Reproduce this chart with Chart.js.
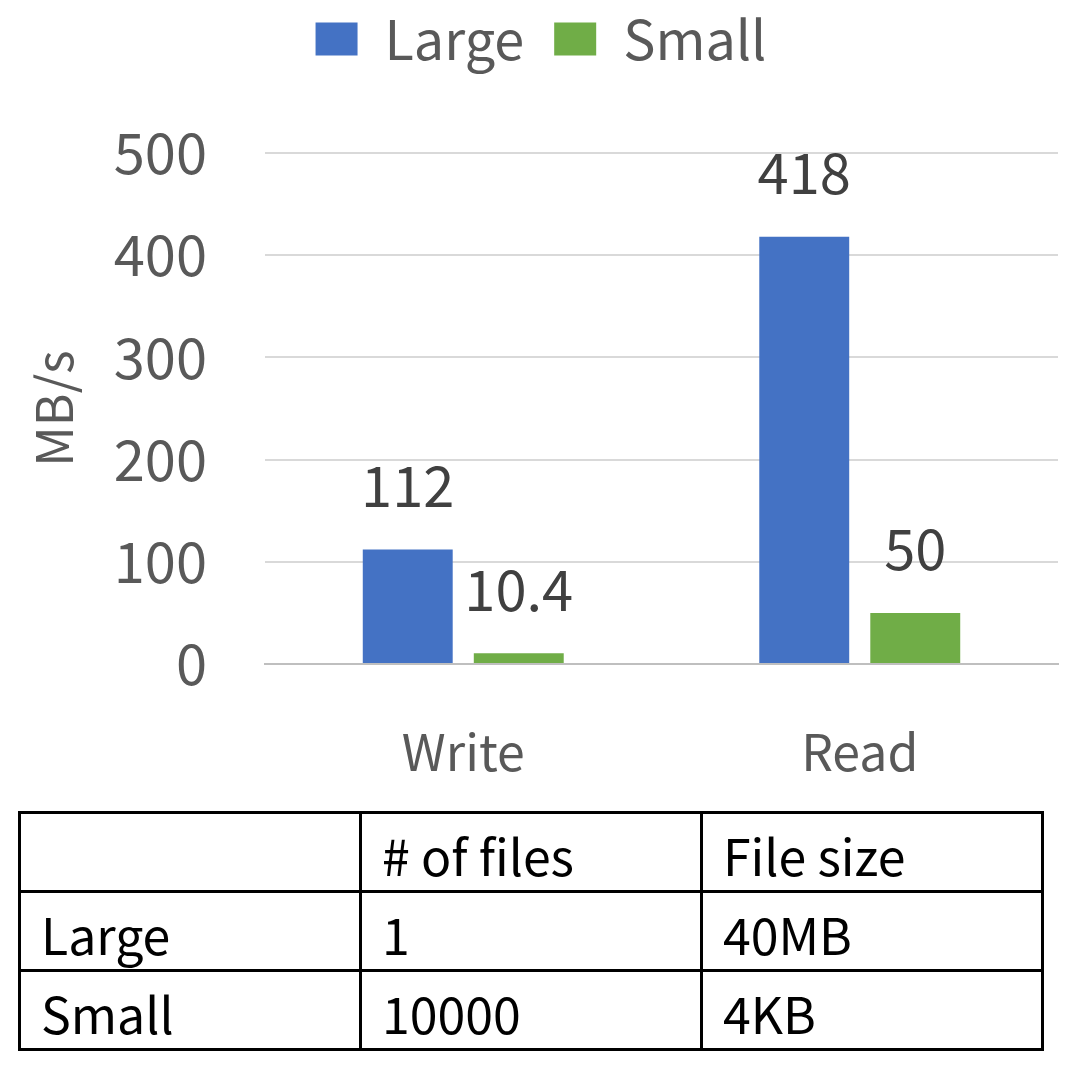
<!DOCTYPE html>
<html>
<head>
<meta charset="utf-8">
<script src="https://cdn.jsdelivr.net/npm/chart.js@4"></script>
<style>
  body { margin: 0; background: #fff; font-family: "Noto Sans CJK KR", "Noto Sans", sans-serif; }
  #wrap { position: relative; width: 1082px; height: 832px; }
  table {
    position: absolute; left: 18px; top: 811px;
    border-collapse: collapse; font-size: 50px; line-height: 1; color: #000;
  }
  td { border: 3px solid #000; height: 79px; padding: 4px 0 0 20px; vertical-align: middle; box-sizing: border-box; }
</style>
</head>
<body>
<div id="wrap"><canvas id="myChart" width="1082" height="832"></canvas></div>
<table id="info"></table>
<script>
const categories = ['Write', 'Read'];
const largeValues = [112, 418];
const smallValues = [10.4, 50];
const yTicks = [0, 100, 200, 300, 400, 500];
const tableHeader = ['', '# of files', 'File size'];
const tableRows = [
  ['Large', '1', '40MB'],
  ['Small', '10000', '4KB'],
];

// table under the chart
const table = document.getElementById('info');
[tableHeader, ...tableRows].forEach(row => {
  const tr = document.createElement('tr');
  row.forEach(cell => {
    const td = document.createElement('td');
    td.textContent = cell;
    td.style.width = '341px';
    tr.appendChild(td);
  });
  table.appendChild(tr);
});

const font = '"Noto Sans CJK KR", "Noto Sans", sans-serif';

// value labels above the bars
const barLabels = {
  id: 'barLabels',
  afterDatasetsDraw(chart) {
    const ctx = chart.ctx;
    ctx.save();
    ctx.font = '56px ' + font;
    ctx.fillStyle = '#404040';
    ctx.textAlign = 'center';
    ctx.textBaseline = 'middle';
    chart.data.datasets.forEach((ds, i) => {
      chart.getDatasetMeta(i).data.forEach((bar, j) => {
        ctx.fillText(String(ds.data[j]), bar.x, bar.y - 64);
      });
    });
    ctx.restore();
  }
};

// leave room between legend and plot, and pull the legend items up a bit
const legendSpace = {
  id: 'legendSpace',
  beforeInit(chart) {
    const fit = chart.legend.fit;
    chart.legend.fit = function () {
      fit.call(this);
      this.height = 153;
    };
  },
  afterLayout(chart) {
    chart.legend.top -= 18;
  }
};

new Chart(document.getElementById('myChart').getContext('2d'), {
  type: 'bar',
  data: {
    labels: categories,
    datasets: [
      { label: 'Large', data: largeValues, backgroundColor: '#4472C4' },
      { label: 'Small', data: smallValues, backgroundColor: '#70AD47' },
    ],
  },
  options: {
    responsive: false,
    animation: false,
    devicePixelRatio: 1,
    layout: { padding: { left: 24, right: 24, top: 0, bottom: 0 } },
    datasets: { bar: { categoryPercentage: 0.56, barPercentage: 0.81 } },
    plugins: {
      legend: {
        position: 'top',
        labels: {
          boxWidth: 42, boxHeight: 33, padding: 30,
          color: '#595959',
          font: { family: font, size: 54 },
        },
      },
      tooltip: { enabled: false },
    },
    scales: {
      x: {
        grid: { display: false },
        border: { color: '#BFBFBF', width: 2 },
        ticks: { color: '#595959', font: { family: font, size: 50 }, padding: 50 },
      },
      y: {
        min: 0, max: 500,
        afterBuildTicks(axis) { axis.ticks = yTicks.map(v => ({ value: v })); },
        afterFit(axis) { axis.width = 241; },
        grid: { color: '#D9D9D9', lineWidth: 2, drawTicks: false },
        border: { display: false },
        ticks: { color: '#595959', font: { family: font, size: 56 }, padding: 58 },
        title: {
          display: true, text: 'MB/s', color: '#595959',
          font: { family: font, size: 50 }, padding: 0,
        },
      },
    },
  },
  plugins: [barLabels, legendSpace],
});
</script>
</body>
</html>
